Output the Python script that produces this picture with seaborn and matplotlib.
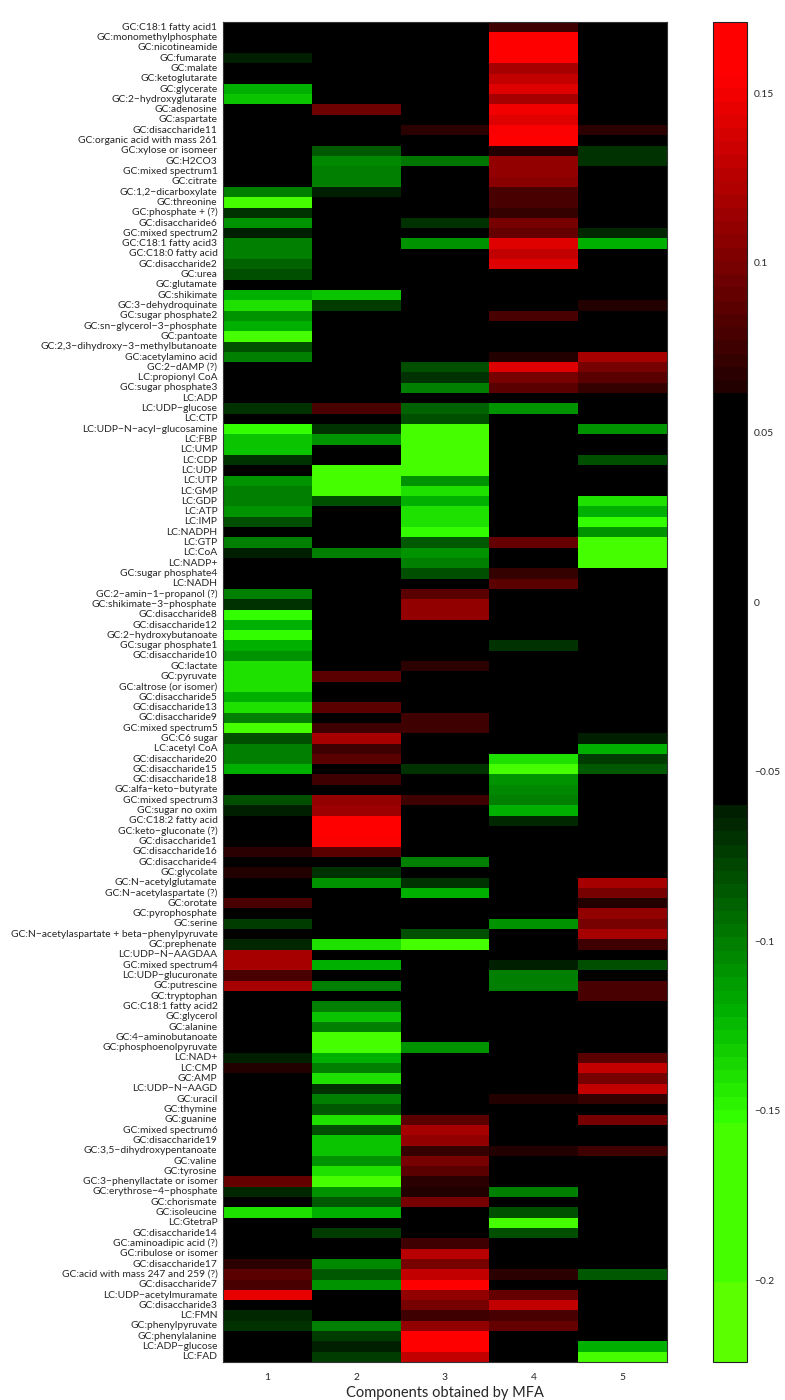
import numpy as np
import pandas as pd
import matplotlib
matplotlib.use('Agg')
import matplotlib.pyplot as plt
import seaborn as sns
from matplotlib.colors import ListedColormap

sns.set_style("white")
plt.rcParams['font.family'] = ['Lato', 'DejaVu Sans']

# metabolite labels, top to bottom
labels = [
    "GC:C18:1 fatty acid1", "GC:monomethylphosphate", "GC:nicotineamide", "GC:fumarate",
    "GC:malate", "GC:ketoglutarate", "GC:glycerate", "GC:2−hydroxyglutarate",
    "GC:adenosine", "GC:aspartate", "GC:disaccharide11", "GC:organic acid with mass 261",
    "GC:xylose or isomeer", "GC:H2CO3", "GC:mixed spectrum1", "GC:citrate",
    "GC:1,2−dicarboxylate", "GC:threonine", "GC:phosphate + (?)", "GC:disaccharide6",
    "GC:mixed spectrum2", "GC:C18:1 fatty acid3", "GC:C18:0 fatty acid", "GC:disaccharide2",
    "GC:urea", "GC:glutamate", "GC:shikimate", "GC:3−dehydroquinate",
    "GC:sugar phosphate2", "GC:sn−glycerol−3−phosphate", "GC:pantoate",
    "GC:2,3−dihydroxy−3−methylbutanoate", "GC:acetylamino acid", "GC:2−dAMP (?)",
    "LC:propionyl CoA", "GC:sugar phosphate3", "LC:ADP", "LC:UDP−glucose", "LC:CTP",
    "LC:UDP−N−acyl−glucosamine", "LC:FBP", "LC:UMP", "LC:CDP", "LC:UDP", "LC:UTP",
    "LC:GMP", "LC:GDP", "LC:ATP", "LC:IMP", "LC:NADPH", "LC:GTP", "LC:CoA", "LC:NADP+",
    "GC:sugar phosphate4", "LC:NADH", "GC:2−amin−1−propanol (?)", "GC:shikimate−3−phosphate",
    "GC:disaccharide8", "GC:disaccharide12", "GC:2−hydroxybutanoate", "GC:sugar phosphate1",
    "GC:disaccharide10", "GC:lactate", "GC:pyruvate", "GC:altrose (or isomer)",
    "GC:disaccharide5", "GC:disaccharide13", "GC:disaccharide9", "GC:mixed spectrum5",
    "GC:C6 sugar", "LC:acetyl CoA", "GC:disaccharide20", "GC:disaccharide15",
    "GC:disaccharide18", "GC:alfa−keto−butyrate", "GC:mixed spectrum3", "GC:sugar no oxim",
    "GC:C18:2 fatty acid", "GC:keto−gluconate (?)", "GC:disaccharide1", "GC:disaccharide16",
    "GC:disaccharide4", "GC:glycolate", "GC:N−acetylglutamate", "GC:N−acetylaspartate (?)",
    "GC:orotate", "GC:pyrophosphate", "GC:serine",
    "GC:N−acetylaspartate + beta−phenylpyruvate", "GC:prephenate", "LC:UDP−N−AAGDAA",
    "GC:mixed spectrum4", "LC:UDP−glucuronate", "GC:putrescine", "GC:tryptophan",
    "GC:C18:1 fatty acid2", "GC:glycerol", "GC:alanine", "GC:4−aminobutanoate",
    "GC:phosphoenolpyruvate", "LC:NAD+", "LC:CMP", "GC:AMP", "LC:UDP−N−AAGD",
    "GC:uracil", "GC:thymine", "GC:guanine", "GC:mixed spectrum6", "GC:disaccharide19",
    "GC:3,5−dihydroxypentanoate", "GC:valine", "GC:tyrosine", "GC:3−phenyllactate or isomer",
    "GC:erythrose−4−phosphate", "GC:chorismate", "GC:isoleucine", "LC:GtetraP",
    "GC:disaccharide14", "GC:aminoadipic acid (?)", "GC:ribulose or isomer",
    "GC:disaccharide17", "GC:acid with mass 247 and 259 (?)", "GC:disaccharide7",
    "LC:UDP−acetylmuramate", "GC:disaccharide3", "LC:FMN", "GC:phenylpyruvate",
    "GC:phenylalanine", "LC:ADP−glucose", "LC:FAD",
]

# loadings per component (rows in label order)
comp1 = [
    0, 0, 0, -0.06, -0.058, -0.056, -0.12, -0.13, 0, 0,
    0, 0, 0, 0, 0, -0.055, -0.1, -0.16, -0.07, -0.11,
    -0.06, -0.1, -0.1, -0.09, -0.08, 0, -0.12, -0.14, -0.11, -0.12,
    -0.16, -0.08, -0.1, 0, 0, 0, 0, -0.07, 0, -0.15,
    -0.13, -0.13, -0.07, 0, -0.11, -0.1, -0.1, -0.11, -0.08, 0,
    -0.1, -0.06, 0, 0, 0, -0.1, -0.07, -0.15, -0.12, -0.15,
    -0.12, -0.11, -0.14, -0.14, -0.14, -0.12, -0.14, -0.1, -0.16, -0.08,
    -0.1, -0.1, -0.12, 0, 0, -0.08, -0.06, 0, 0, 0,
    0.068, 0, 0.065, 0, 0, 0.08, 0, -0.075, 0, -0.065,
    0.12, 0.12, 0.08, 0.12, 0, 0, 0, 0, 0, 0,
    -0.06, 0.065, 0, 0, 0, 0, 0, 0, 0, 0,
    0, 0, 0.09, -0.065, -0.055, -0.14, 0, 0, 0, 0,
    0.068, 0.085, 0.08, 0.145, 0, -0.065, -0.07, 0, 0, 0,
]
comp2 = [
    0, 0, 0, 0, 0, 0, 0, 0, 0.095, 0,
    -0.057, 0, -0.085, -0.105, -0.1, -0.1, -0.06, 0, 0, 0,
    0, 0, 0, 0, 0, -0.055, -0.13, -0.075, 0, 0,
    0, 0, 0, 0, 0, 0, 0, 0.08, 0, -0.07,
    -0.11, 0, -0.055, -0.16, -0.16, -0.16, -0.08, 0, 0, 0,
    0, -0.1, 0, 0, 0, 0, -0.053, 0, 0, 0,
    0, 0, 0, 0.085, 0, 0, 0.085, 0, 0.075, 0.12,
    0.075, 0.085, 0, 0.075, 0, 0.11, 0.115, 0.16, 0.165, 0.155,
    0.085, 0, -0.07, -0.11, 0, 0, 0, 0, 0, -0.14,
    -0.053, -0.12, 0, -0.1, 0, -0.1, -0.13, -0.1, -0.16, -0.16,
    -0.12, -0.1, -0.14, -0.07, -0.1, -0.085, -0.14, -0.08, -0.13, -0.13,
    -0.11, -0.14, -0.16, -0.11, -0.085, -0.12, -0.055, -0.075, 0, 0,
    -0.105, -0.085, -0.11, 0, 0, 0, -0.1, -0.075, -0.06, -0.075,
]
comp3 = [
    0, 0, 0, 0, 0, 0, 0, 0, 0, 0,
    0.066, 0, 0, -0.095, 0, 0, 0, 0, 0, -0.07,
    0, -0.11, 0, 0, 0, 0, 0, 0, 0, 0,
    0, 0, 0, -0.08, -0.07, -0.1, 0, -0.09, -0.08, -0.17,
    -0.17, -0.17, -0.17, -0.17, -0.11, -0.14, -0.12, -0.14, -0.14, -0.15,
    -0.085, -0.11, -0.1, -0.08, 0, 0.085, 0.11, 0.11, 0, 0,
    0, 0, 0.068, 0, 0, 0, 0, 0.075, 0.075, 0,
    0, 0, -0.07, 0, 0, 0.075, 0, 0, 0, 0,
    0, -0.1, -0.058, -0.07, -0.12, -0.058, 0, 0, -0.08, -0.17,
    0, 0, 0, 0, 0, 0, 0, 0, 0, -0.11,
    0, 0, 0, 0, 0, 0, 0.085, 0.12, 0.11, 0.07,
    0.1, 0.085, 0.068, 0.065, 0.1, 0, 0, 0, 0.075, 0.125,
    0.1, 0.13, 0.165, 0.11, 0.1, 0.075, 0.11, 0.16, 0.16, 0.13,
]
comp4 = [
    0.075, 0.165, 0.165, 0.165, 0.12, 0.13, 0.14, 0.12, 0.15, 0.14,
    0.155, 0.16, 0.065, 0.11, 0.11, 0.105, 0.08, 0.08, 0.07, 0.1,
    0.09, 0.14, 0.13, 0.14, 0, 0, 0, 0, 0.08, 0,
    0, 0, 0.065, 0.14, 0.1, 0.085, 0, -0.11, 0, -0.055,
    0, 0, 0, 0, -0.053, 0, 0, 0, 0, 0,
    0.09, 0, 0, 0.07, 0.085, 0, 0, 0, 0, -0.054,
    -0.07, 0, 0, 0, 0, -0.053, 0, 0, 0, 0,
    0, -0.14, -0.17, -0.11, -0.105, -0.1, -0.12, -0.065, 0, 0,
    0, 0, 0, 0, 0, 0, 0, -0.11, 0, -0.053,
    0, -0.06, -0.1, -0.1, 0, 0, 0, 0, 0, 0,
    0, 0, 0, 0, 0.065, 0, 0, 0, 0, 0.065,
    0, 0, 0, -0.1, 0, -0.08, -0.16, -0.08, 0, 0,
    0, 0.066, 0, 0.09, 0.13, 0.08, 0.09, 0, 0, 0,
]
comp5 = [
    0, 0, 0, 0, 0, 0, 0, 0, 0, 0,
    0.068, 0, -0.07, -0.07, 0, 0, 0, 0, 0, 0,
    -0.065, -0.12, -0.055, 0, 0, 0, 0, 0.065, 0, 0,
    0, 0, 0.12, 0.1, 0.085, 0.07, 0, 0, 0, -0.11,
    0, 0, -0.08, 0, 0, 0, -0.14, -0.12, -0.15, -0.11,
    -0.16, -0.16, -0.16, 0, 0, 0, 0, 0, 0, 0,
    0, 0, 0, 0, 0, 0, 0, -0.053, 0, -0.06,
    -0.12, -0.075, -0.085, 0, 0, 0, 0, 0, 0, 0,
    0, 0, 0, 0.12, 0.1, 0.065, 0.11, 0.1, 0.12, 0.075,
    0, -0.08, -0.055, 0.08, 0.08, 0, 0, 0, 0, 0,
    0.085, 0.13, 0.1, 0.13, 0.07, 0, 0.1, 0, 0, 0.075,
    0, 0, 0, 0, 0, 0, 0, 0, 0, 0,
    0, -0.085, 0, 0, 0, 0, 0, 0, -0.12, -0.16,
]
components = ["1", "2", "3", "4", "5"]

cbar_ticks = [0.15, 0.1, 0.05, 0, -0.05, -0.1, -0.15, -0.2]
cbar_ticklabels = ["0.15", "0.1", "0.05", "0", "−0.05", "−0.1", "−0.15", "−0.2"]
vmin, vmax = -0.224, 0.171


def level_colour(v):
    """red/black/green map with a wide black band round zero"""
    if v >= 0.06:
        return (min(1.0, 0.1 + 0.9 * (v - 0.06) / 0.095), 0.0, 0.0)
    if v <= -0.058:
        if v <= -0.2:
            return (0.36, 1.0, 0.0)
        if v <= -0.152:
            return (0.27, 1.0, 0.0)
        g = min(1.0, 0.08 + 0.92 * (-0.058 - v) / 0.094)
        r = max(0.0, (g - 0.7) / 0.3 * 0.2)
        return (r, g, 0.0)
    return (0.0, 0.0, 0.0)


n_levels = 101
centres = vmin + (np.arange(n_levels) + 0.5) * (vmax - vmin) / n_levels
cmap = ListedColormap([level_colour(v) for v in centres])

df = pd.DataFrame({"1": comp1, "2": comp2, "3": comp3, "4": comp4, "5": comp5},
                  index=labels)

fig = plt.figure(figsize=(7.85, 14.0), dpi=100)
ax = fig.add_axes([223 / 785, 38 / 1400, 444 / 785, 1340 / 1400])
cax = fig.add_axes([713 / 785, 38 / 1400, 34 / 785, 1340 / 1400])

sns.heatmap(df, ax=ax, cbar_ax=cax, cmap=cmap, vmin=vmin, vmax=vmax,
            xticklabels=components, yticklabels=labels)

ax.tick_params(axis='y', direction='in', length=9, width=0.6, color='black',
               left=True, right=True, labelsize=7.4, pad=4)
ax.tick_params(axis='x', direction='in', length=9, width=0.6, color='black',
               top=True, bottom=True, labelsize=7.4, pad=8)
plt.setp(ax.get_yticklabels(), rotation=0)
plt.setp(ax.get_xticklabels(), rotation=0)
ax.set_xlabel("Components obtained by MFA", fontsize=10.5, labelpad=3)
ax.set_ylabel("")
for side in ['top', 'bottom', 'left', 'right']:
    ax.spines[side].set_visible(True)
    ax.spines[side].set_color('#333333')
    ax.spines[side].set_linewidth(0.8)

cbar = ax.collections[0].colorbar
cbar.set_ticks(cbar_ticks, labels=cbar_ticklabels)
cbar.ax.tick_params(direction='in', length=9, width=0.6, color='black',
                    left=True, right=True, labelsize=7.4, pad=5)
cbar.outline.set_edgecolor('#222222')
cbar.outline.set_linewidth(0.8)

plt.savefig('out.png', dpi=100)
plt.close()
